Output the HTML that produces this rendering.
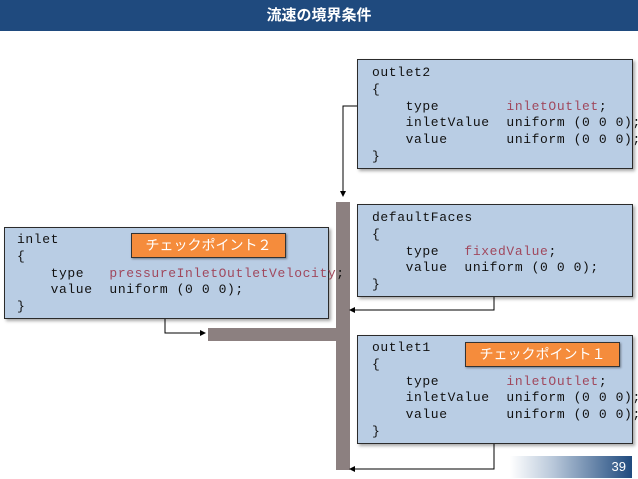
<!DOCTYPE html>
<html><head><meta charset="utf-8"><style>
body{margin:0;width:638px;height:479px;background:#fff;position:relative;overflow:hidden;font-family:"Liberation Sans","Noto Sans CJK JP",sans-serif}
.hdr{position:absolute;left:0;top:0;width:638px;height:31px;background:#1f4a7e;color:#fff;font-weight:bold;font-size:15px;text-align:center;line-height:31px}
.box{position:absolute;background:#b9cde4;border:1.5px solid #2b2b2b;box-shadow:2px 2px 3px rgba(0,0,0,.35);box-sizing:border-box}
pre{margin:0;position:absolute;font-family:"Liberation Mono",monospace;font-size:13px;letter-spacing:0.6px;line-height:16.8px;color:#111}
.r{color:#a0485d}
.badge{position:absolute;background:#f58c3c;border:1px solid #333;color:#fff;font-size:14px;text-align:center;line-height:22px;box-shadow:1px 1px 2px rgba(0,0,0,.4);font-family:"Liberation Sans","Noto Sans CJK JP",sans-serif}
.bar{position:absolute;background:#8c8080}
.pg{position:absolute;left:510px;top:456px;width:122px;height:22px;background:linear-gradient(90deg,#fff,#b9c8da 35%,#1f4a7e);color:#fff;font-size:13px;text-align:right;line-height:22px;padding-right:6px;box-sizing:border-box}
</style></head><body>
<div class="hdr">流速の境界条件</div>
<div class="bar" style="left:336px;top:202px;width:14px;height:268px"></div>
<div class="bar" style="left:208px;top:328px;width:130px;height:13px"></div>

<div class="box" style="left:357px;top:59px;width:276px;height:110px"><pre style="left:14px;top:5px">outlet2
{
    type        <span class="r">inletOutlet</span>;
    inletValue  uniform (0 0 0);
    value       uniform (0 0 0);
}</pre></div>

<div class="box" style="left:357px;top:204px;width:276px;height:93px"><pre style="left:14px;top:5px">defaultFaces
{
    type   <span class="r">fixedValue</span>;
    value  uniform (0 0 0);
}</pre></div>

<div class="box" style="left:357px;top:335px;width:276px;height:109px"><pre style="left:14px;top:4px">outlet1
{
    type        <span class="r">inletOutlet</span>;
    inletValue  uniform (0 0 0);
    value       uniform (0 0 0);
}</pre></div>
<div class="badge" style="left:465px;top:342px;width:153px;height:23px">チェックポイント１</div>

<div class="box" style="left:4px;top:227px;width:325px;height:92px"><pre style="left:12px;top:4px">inlet
{
    type   <span class="r">pressureInletOutletVelocity</span>;
    value  uniform (0 0 0);
}</pre></div>
<div class="badge" style="left:131px;top:233px;width:153px;height:23px">チェックポイント２</div>

<svg style="position:absolute;left:0;top:0" width="638" height="479">
<defs><marker id="a" markerWidth="6" markerHeight="6" refX="5" refY="3" orient="auto"><path d="M0,0L6,3L0,6z" fill="#000"/></marker></defs>
<g fill="none" stroke="#000" stroke-width="1">
<path d="M357,106H343V196" marker-end="url(#a)"/>
<path d="M165,319V333H205" marker-end="url(#a)"/>
<path d="M494,297V310H350" marker-end="url(#a)"/>
<path d="M494,444V469H350" marker-end="url(#a)"/>
</g></svg>
<div class="pg">39</div>
</body></html>
